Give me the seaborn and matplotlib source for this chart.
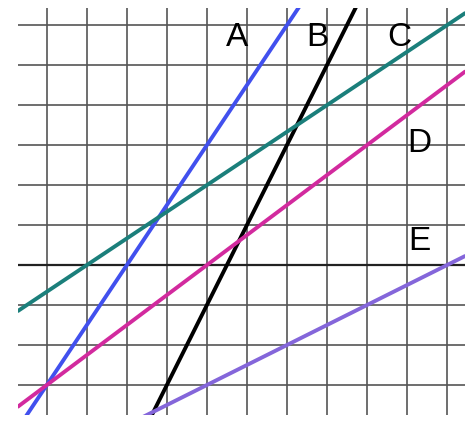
import numpy as np
import pandas as pd
import matplotlib
matplotlib.use('Agg')
import matplotlib.pyplot as plt
import seaborn as sns

sns.set_style('white')
plt.rcParams['font.family'] = ['Liberation Sans', 'DejaVu Sans']

names = ['A', 'B', 'C', 'D', 'E']
slopes = [1.5, 2.0, 2 / 3, 0.75, 0.5]
intercepts = [3.0, -1.0, 2.0, 0.0, -3.0]
colors = ['#4150ee', '#000000', '#1b7f7b', '#d22a9e', '#8466da']
label_x = [0.75, 2.75, 4.8, 5.3, 5.3]
label_y = [5.7, 5.7, 5.7, 3.05, 0.6]

xmin, xmax = -4.72, 6.45
ymin, ymax = -3.75, 6.43

fig = plt.figure(figsize=(4.74, 4.29), dpi=100)
ax = fig.add_axes([18 / 474, 1 - 415 / 429, 447 / 474, 407 / 429])

for gx in range(-4, 7):
    ax.axvline(gx, color='#555555', lw=1.2, zorder=1)
for gy in range(-3, 7):
    ax.axhline(gy, color='#222222' if gy == 0 else '#555555', lw=1.6 if gy == 0 else 1.2, zorder=1)

xs = np.linspace(xmin, xmax, 200)
rows = []
for n, m, b in zip(names, slopes, intercepts):
    for x in xs:
        rows.append({'x': x, 'y': m * x + b, 'line': n})
df = pd.DataFrame(rows)
sns.lineplot(data=df, x='x', y='y', hue='line', palette=dict(zip(names, colors)),
             lw=2.8, legend=False, ax=ax, zorder=3, sort=False)

for n, lx, ly in zip(names, label_x, label_y):
    ax.text(lx, ly, n, fontsize=24, color='black', ha='center', va='center', zorder=4)

ax.set_xlim(xmin, xmax)
ax.set_ylim(ymin, ymax)
ax.set_xticks([])
ax.set_yticks([])
ax.set_xlabel('')
ax.set_ylabel('')
for s in ax.spines.values():
    s.set_visible(False)

fig.savefig('out.png', dpi=100)
